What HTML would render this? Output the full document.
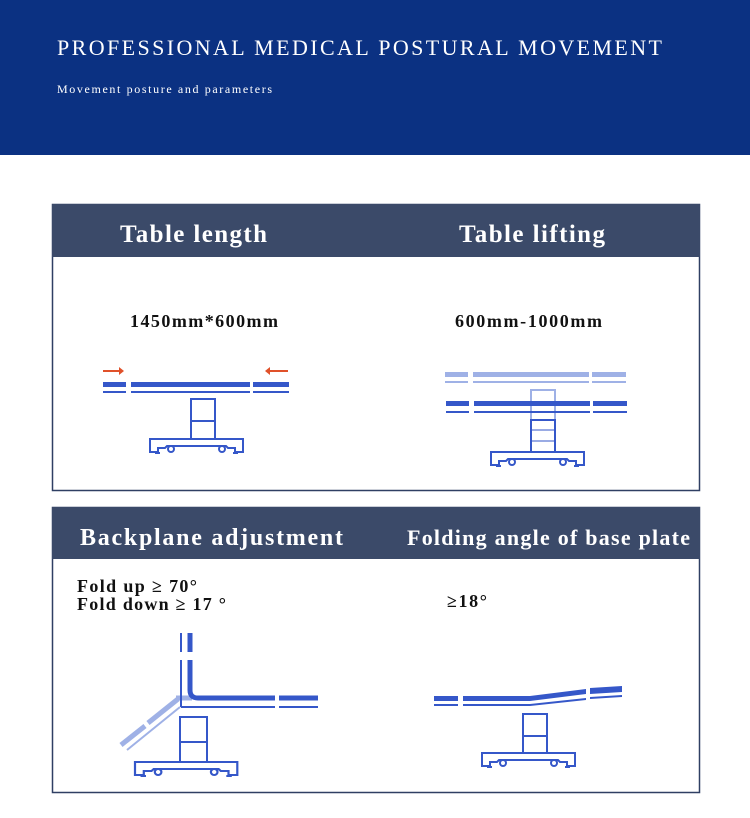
<!DOCTYPE html>
<html><head><meta charset="utf-8"><style>
html,body{margin:0;padding:0;background:#fff;width:750px;height:818px;overflow:hidden}
svg{display:block}
text{font-family:"Liberation Serif",serif}
</style></head><body>
<svg width="750" height="818" viewBox="0 0 750 818" xmlns="http://www.w3.org/2000/svg">
<defs>
<g id="base" fill="none" stroke="#3557c9" stroke-width="2">
<path d="M0 0 H93 V13 H85 V9 H78 L76 7 H17 L15 9 H8 V13 H0 Z"/>
<circle cx="21" cy="10" r="3"/><circle cx="72" cy="10" r="3"/>
<rect x="5" y="13" width="5" height="2" fill="#3557c9" stroke="none"/>
<rect x="83" y="13" width="5" height="2" fill="#3557c9" stroke="none"/>
</g>
</defs>
<rect x="0" y="0" width="750" height="155" fill="#0b3182"/>
<text x="57" y="55" fill="#fff" font-size="22" textLength="605" lengthAdjust="spacing">PROFESSIONAL MEDICAL POSTURAL MOVEMENT</text>
<text x="57" y="93" fill="#fff" font-size="12" textLength="215" lengthAdjust="spacing">Movement posture and parameters</text>

<rect x="52.5" y="204.5" width="647" height="286" fill="#fff" stroke="#2f3f63" stroke-width="1.5"/>
<rect x="52" y="204" width="648" height="53" fill="#3b4a69"/>
<text x="120" y="242" fill="#fff" font-size="25" font-weight="bold" textLength="147" lengthAdjust="spacing">Table length</text>
<text x="459" y="242" fill="#fff" font-size="25" font-weight="bold" textLength="146" lengthAdjust="spacing">Table lifting</text>
<text x="130" y="327" fill="#111" font-size="18" font-weight="bold" textLength="148" lengthAdjust="spacing">1450mm*600mm</text>
<text x="455" y="327" fill="#111" font-size="18" font-weight="bold" textLength="147" lengthAdjust="spacing">600mm-1000mm</text>

<g fill="#e0512a">
<rect x="103" y="370" width="16" height="2"/><polygon points="119,367 124,371 119,375"/>
<rect x="270" y="370" width="18" height="2"/><polygon points="270,367 265,371 270,375"/>
</g>
<g fill="#3557c9">
<rect x="103" y="382" width="23" height="5"/><rect x="131" y="382" width="119" height="5"/><rect x="253" y="382" width="36" height="5"/>
<rect x="103" y="391" width="23" height="2"/><rect x="131" y="391" width="119" height="2"/><rect x="253" y="391" width="36" height="2"/>
</g>
<g fill="none" stroke="#3557c9" stroke-width="2">
<rect x="191" y="399" width="24" height="40"/><line x1="191" y1="421" x2="215" y2="421"/>
</g>
<use href="#base" x="150" y="439"/>

<g fill="#9fb1e6">
<rect x="445" y="372" width="23" height="5"/><rect x="473" y="372" width="116" height="5"/><rect x="592" y="372" width="34" height="5"/>
<rect x="445" y="381" width="23" height="2"/><rect x="473" y="381" width="116" height="2"/><rect x="592" y="381" width="34" height="2"/>
</g>
<rect x="531" y="390" width="24" height="30" fill="none" stroke="#9fb1e6" stroke-width="2"/>
<g fill="#3557c9">
<rect x="446" y="401" width="23" height="5"/><rect x="474" y="401" width="116" height="5"/><rect x="593" y="401" width="34" height="5"/>
<rect x="446" y="411" width="23" height="2"/><rect x="474" y="411" width="116" height="2"/><rect x="593" y="411" width="34" height="2"/>
</g>
<g fill="none" stroke="#3557c9" stroke-width="2">
<rect x="531" y="420" width="24" height="32"/><line x1="531" y1="430" x2="555" y2="430" stroke-width="1"/><line x1="531" y1="441" x2="555" y2="441" stroke-width="1"/>
</g>
<use href="#base" x="491" y="452"/>

<rect x="52.5" y="507.5" width="647" height="285" fill="#fff" stroke="#2f3f63" stroke-width="1.5"/>
<rect x="52" y="507" width="648" height="52" fill="#3b4a69"/>
<text x="80" y="545" fill="#fff" font-size="24" font-weight="bold" textLength="263" lengthAdjust="spacing">Backplane adjustment</text>
<text x="407" y="545" fill="#fff" font-size="22" font-weight="bold" textLength="283" lengthAdjust="spacing">Folding angle of base plate</text>
<text x="77" y="592" fill="#111" font-size="18" font-weight="bold" textLength="120" lengthAdjust="spacing">Fold up ≥ 70°</text>
<text x="77" y="610" fill="#111" font-size="18" font-weight="bold" textLength="149" lengthAdjust="spacing">Fold down ≥ 17 °</text>
<text x="447" y="607" fill="#111" font-size="18" font-weight="bold" textLength="40" lengthAdjust="spacing">≥18°</text>

<g stroke="#9fb1e6" fill="none">
<line x1="178" y1="699" x2="148" y2="723" stroke-width="5"/>
<line x1="145" y1="726" x2="121" y2="745" stroke-width="5"/>
<line x1="180" y1="707" x2="127" y2="750" stroke-width="2"/>
<line x1="176" y1="698" x2="192" y2="698" stroke-width="5"/>
</g>
<g stroke="#3557c9" fill="none">
<line x1="181" y1="633" x2="181" y2="652" stroke-width="2"/>
<line x1="181" y1="660" x2="181" y2="707" stroke-width="2"/>
<line x1="181" y1="707" x2="275" y2="707" stroke-width="2"/>
<line x1="279" y1="707" x2="318" y2="707" stroke-width="2"/>
<line x1="190" y1="633" x2="190" y2="652" stroke-width="5"/>
<path d="M190 660 V690 Q190 698 198 698 H275" stroke-width="5"/>
<line x1="279" y1="698" x2="318" y2="698" stroke-width="5"/>
<rect x="180" y="717" width="27" height="45" stroke-width="2"/>
<line x1="180" y1="742" x2="207" y2="742" stroke-width="2"/>
</g>
<g transform="translate(135,762) scale(1.1,1)"><use href="#base"/></g>

<g fill="#3557c9">
<rect x="434" y="696" width="24" height="5"/>
<polygon points="463,696 530,696 586,689 586,694 530,701 463,701"/>
<polygon points="590,688 622,686 622,692 590,694"/>
<rect x="434" y="704" width="24" height="2"/>
<polygon points="463,704 530,704 586,698 586,700 530,706 463,706"/>
<polygon points="590,697 622,695 622,697 590,699"/>
</g>
<g fill="none" stroke="#3557c9" stroke-width="2">
<rect x="523" y="714" width="24" height="39"/><line x1="523" y1="736" x2="547" y2="736"/>
</g>
<use href="#base" x="482" y="753"/>
</svg>
</body></html>
